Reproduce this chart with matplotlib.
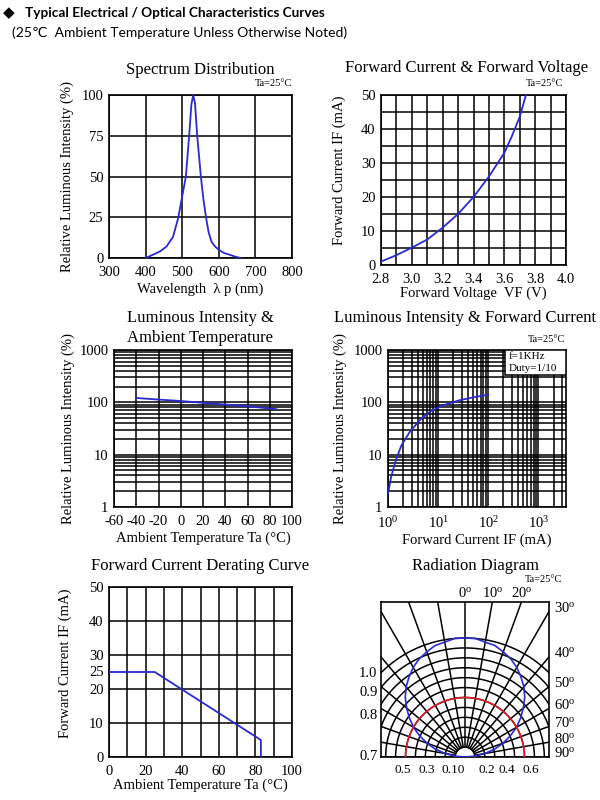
import numpy as np
import matplotlib
matplotlib.use("Agg")
import matplotlib.pyplot as plt
from matplotlib.patches import Rectangle
from matplotlib.ticker import LogLocator, NullFormatter, FixedLocator, FixedFormatter

plt.rcParams['font.family'] = ['Liberation Serif', 'DejaVu Serif']
plt.rcParams['mathtext.fontset'] = 'custom'
plt.rcParams['mathtext.rm'] = 'Liberation Serif'
plt.rcParams['mathtext.it'] = 'Liberation Serif:italic'
plt.rcParams['axes.unicode_minus'] = False

# spectrum distribution
spec_wl = [400, 420, 439, 457, 475, 489, 501, 510, 519, 525, 530, 535, 541, 551, 558, 565, 572, 580, 590, 600, 615, 630, 645, 660]
spec_rel = [0, 2, 4, 7, 13, 24.5, 39, 50, 75, 94, 100, 95, 75, 50, 36, 25, 16, 10, 7, 5, 3, 2, 0.8, 0]

# forward current vs forward voltage
vf = [2.8, 2.9, 3.0, 3.1, 3.2, 3.3, 3.4, 3.5, 3.6, 3.65, 3.7, 3.74]
if_ma = [1, 2.9, 5.1, 7.5, 11, 15, 20, 26, 33, 38, 43.6, 50]

# luminous intensity vs ambient temperature
ta = [-40, -20, 0, 20, 40, 60, 86]
li_ta = [121, 113, 106, 98, 91, 84, 74]

# luminous intensity vs forward current
if_log = [1, 1.17, 1.47, 1.85, 2.7, 4.3, 6.8, 12.6, 27, 58, 100]
li_if = [1.8, 4.0, 8.4, 15, 27, 45.6, 66, 88, 110, 128, 140]

# derating curve
der_ta = [0, 25, 83, 83]
der_if = [25, 25, 5, 0]

# radiation diagram (angle from axis, relative intensity)
rad_ang = [-90, -85, -80, -75, -70, -65, -60, -55, -50, -45, -40, -35, -30, -25, -20, -15, -10, -5, 0,
           5, 10, 15, 20, 25, 30, 35, 40, 45, 50, 55, 60, 65, 70, 75, 80, 85, 90]
rad_blue = [0.00, 0.09, 0.17, 0.26, 0.34, 0.42, 0.50, 0.57, 0.64, 0.71, 0.77, 0.82, 0.87, 0.91, 0.94, 0.97, 0.98, 1.00, 1.00,
            1.00, 0.98, 0.97, 0.94, 0.91, 0.87, 0.82, 0.77, 0.71, 0.64, 0.57, 0.50, 0.42, 0.34, 0.26, 0.17, 0.09, 0.00]
rad_red = [0.50, 0.50, 0.50, 0.50, 0.50, 0.50, 0.50, 0.50, 0.50, 0.50, 0.50, 0.50, 0.50, 0.50, 0.50, 0.50, 0.50, 0.50, 0.50,
           0.50, 0.50, 0.50, 0.50, 0.50, 0.50, 0.50, 0.50, 0.50, 0.50, 0.50, 0.50, 0.50, 0.50, 0.50, 0.50, 0.50, 0.50]

BLUE = '#2a2ad0'
RED = '#e0202a'
W, H = 600, 800
fig = plt.figure(figsize=(6, 8), dpi=100)


def box(x0, y0, x1, y1):
    return [x0 / W, 1 - y1 / H, (x1 - x0) / W, (y1 - y0) / H]


def ftext(x, y, s, **kw):
    fig.text(x / W, 1 - y / H, s, **kw)


def style(ax):
    for sp in ax.spines.values():
        sp.set_linewidth(1.2)
    ax.tick_params(which='both', length=0, labelsize=10.5)
    ax.tick_params(axis='x', pad=6)
    ax.tick_params(axis='y', pad=4)
    ax.grid(True, which='both', color='black', lw=1.1)
    ax.set_axisbelow(False)


# header
ftext(3, 13, '◆', family='DejaVu Sans', fontsize=11, va='center')
ftext(25, 13, 'Typical Electrical / Optical Characteristics Curves', family=['Lato', 'DejaVu Sans'],
      fontweight='bold', fontsize=9.8, va='center')
ftext(12, 33, '(25℃  Ambient Temperature Unless Otherwise Noted)', family=['Lato', 'DejaVu Sans'],
      fontsize=10, va='center')

# 1 spectrum
ax1 = fig.add_axes(box(109, 95, 292, 258))
ax1.plot(spec_wl, spec_rel, color=BLUE, lw=1.3, zorder=3)
ax1.set_xlim(300, 800)
ax1.set_ylim(0, 100)
ax1.set_xticks([300, 400, 500, 600, 700, 800])
ax1.set_yticks([0, 25, 50, 75, 100])
style(ax1)
ax1.set_xlabel('Wavelength  λ p (nm)', fontsize=10.5, labelpad=2)
ax1.set_ylabel('Relative Luminous Intensity (%)', fontsize=10.5)
ax1.yaxis.set_label_coords(-0.19, 0.5)
ftext(200, 70, 'Spectrum Distribution', fontsize=12, ha='center', va='center')
ftext(292, 84, 'Ta=25°C', fontsize=7.5, ha='right', va='center')

# 2 forward current vs voltage
ax2 = fig.add_axes(box(381, 95, 566, 265))
ax2.plot(vf, if_ma, color=BLUE, lw=1.3, zorder=3)
ax2.set_xlim(2.8, 4.0)
ax2.set_ylim(0, 50)
ax2.set_xticks([2.8, 3.0, 3.2, 3.4, 3.6, 3.8, 4.0])
ax2.set_xticks(np.arange(2.9, 4.0, 0.2), minor=True)
ax2.set_yticks([0, 10, 20, 30, 40, 50])
ax2.set_yticks([5, 15, 25, 35, 45], minor=True)
ax2.yaxis.set_minor_formatter(NullFormatter())
ax2.xaxis.set_minor_formatter(NullFormatter())
style(ax2)
ax2.set_xlabel('Forward Voltage  VF (V)', fontsize=10.5, labelpad=0)
ax2.set_ylabel('Forward Current IF (mA)', fontsize=10.5)
ax2.yaxis.set_label_coords(-0.19, 0.56)
ftext(467, 68, 'Forward Current & Forward Voltage', fontsize=12, ha='center', va='center')
ftext(563, 84, 'Ta=25°C', fontsize=7.5, ha='right', va='center')

# 3 luminous intensity vs temperature
ax3 = fig.add_axes(box(114, 350, 292, 507))
ax3.plot(ta, li_ta, color=BLUE, lw=1.3, zorder=3)
ax3.set_yscale('log')
ax3.set_xlim(-60, 100)
ax3.set_ylim(1, 1000)
ax3.set_xticks(np.arange(-60, 101, 20))
ax3.yaxis.set_major_locator(FixedLocator([1, 10, 100, 1000]))
ax3.yaxis.set_major_formatter(FixedFormatter(['1', '10', '100', '1000']))
ax3.yaxis.set_minor_locator(LogLocator(base=10, subs=np.arange(2, 10)))
ax3.yaxis.set_minor_formatter(NullFormatter())
style(ax3)
ax3.set_xlabel('Ambient Temperature Ta (°C)', fontsize=10.5, labelpad=2)
ax3.set_ylabel('Relative Luminous Intensity (%)', fontsize=10.5)
ax3.yaxis.set_label_coords(-0.22, 0.5)
ftext(200, 318, 'Luminous Intensity &', fontsize=12, ha='center', va='center')
ftext(200, 338, 'Ambient Temperature', fontsize=12, ha='center', va='center')

# 4 luminous intensity vs forward current
ax4 = fig.add_axes(box(388, 350, 566, 507))
ax4.plot(if_log, li_if, color=BLUE, lw=1.3, zorder=3)
ax4.set_xscale('log')
ax4.set_yscale('log')
ax4.set_xlim(1, 10 ** 3.55)
ax4.set_ylim(1, 1000)
ax4.xaxis.set_major_locator(FixedLocator([1, 10, 100, 1000]))
ax4.xaxis.set_major_formatter(FixedFormatter([r'$\mathregular{10^0}$', r'$\mathregular{10^1}$',
                                              r'$\mathregular{10^2}$', r'$\mathregular{10^3}$']))
ax4.xaxis.set_minor_locator(LogLocator(base=10, subs=np.arange(2, 10)))
ax4.xaxis.set_minor_formatter(NullFormatter())
ax4.yaxis.set_major_locator(FixedLocator([1, 10, 100, 1000]))
ax4.yaxis.set_major_formatter(FixedFormatter(['1', '10', '100', '1000']))
ax4.yaxis.set_minor_locator(LogLocator(base=10, subs=np.arange(2, 10)))
ax4.yaxis.set_minor_formatter(NullFormatter())
style(ax4)
ax4.add_patch(Rectangle((0.657, 0.84), 0.343, 0.16, transform=ax4.transAxes,
                        facecolor='white', edgecolor='black', lw=1.1, zorder=4))
ax4.text(0.68, 0.96, 'f=1KHz', transform=ax4.transAxes, fontsize=8, va='center', zorder=5)
ax4.text(0.68, 0.882, 'Duty=1/10', transform=ax4.transAxes, fontsize=8, va='center', zorder=5)
ax4.set_xlabel('Forward Current IF (mA)', fontsize=10.5, labelpad=2)
ax4.set_ylabel('Relative Luminous Intensity (%)', fontsize=10.5)
ax4.yaxis.set_label_coords(-0.23, 0.5)
ftext(465, 318, 'Luminous Intensity & Forward Current', fontsize=12, ha='center', va='center')
ftext(565, 339, 'Ta=25°C', fontsize=7.5, ha='right', va='center')

# 5 derating
ax5 = fig.add_axes(box(109, 587, 292, 757))
ax5.plot(der_ta, der_if, color=BLUE, lw=1.3, zorder=3)
ax5.set_xlim(0, 100)
ax5.set_ylim(0, 50)
ax5.set_xticks(np.arange(0, 101, 20))
ax5.set_xticks(np.arange(10, 100, 20), minor=True)
ax5.set_yticks([0, 10, 20, 30, 40, 50])
style(ax5)
ax5.text(-0.025, 25, '25', transform=ax5.get_yaxis_transform(), fontsize=10.5, ha='right', va='center')
ax5.set_xlabel('Ambient Temperature Ta (°C)', fontsize=10.5, labelpad=0)
ax5.set_ylabel('Forward Current IF (mA)', fontsize=10.5)
ax5.yaxis.set_label_coords(-0.2, 0.55)
ftext(200, 566, 'Forward Current Derating Curve', fontsize=12, ha='center', va='center')

# 6 radiation diagram
R = 119.0
ax6 = fig.add_axes(box(381, 602, 549, 757))
hw = 84 / R
top = 155 / R
ax6.set_xlim(-hw, hw)
ax6.set_ylim(0, top)
ax6.set_xticks([])
ax6.set_yticks([])
for sp in ax6.spines.values():
    sp.set_linewidth(1.2)
t = np.linspace(0, np.pi, 200)
for k in range(1, 13):
    ax6.plot(k / 12 * np.cos(t), k / 12 * np.sin(t), color='black', lw=1.1)
for a in range(-90, 91, 10):
    th = np.radians(a)
    ax6.plot([np.sin(th) / 12, 2 * np.sin(th)], [np.cos(th) / 12, 2 * np.cos(th)], color='black', lw=1.1)
ang = np.radians(rad_ang)
ax6.plot(np.array(rad_blue) * np.sin(ang), np.array(rad_blue) * np.cos(ang), color=BLUE, lw=1.2, zorder=3)
ax6.plot(np.array(rad_red) * np.sin(ang), np.array(rad_red) * np.cos(ang), color=RED, lw=1.2, zorder=3)
for a in [0, 10, 20]:
    ax6.text(top * np.tan(np.radians(a)), top + 0.02, f'{a}$^\\mathregular{{o}}$', fontsize=10.5,
             ha='center', va='bottom')
for a in [30, 40, 50, 60, 70, 80, 90]:
    yy = hw / np.tan(np.radians(a)) if a < 90 else 0
    ax6.text(hw + 0.04, min(yy + 0.03, top - 0.03), f'{a}$^\\mathregular{{o}}$', fontsize=10.5,
             ha='left', va='center')
for s, yy in zip(['1.0', '0.9', '0.8', '0.7'], [0.70, 0.54, 0.35, 0.0]):
    ax6.text(-hw - 0.03, yy, s, fontsize=10.5, ha='right', va='center')
for s, xx in zip(['0.5', '0.3', '0.10', '0.2', '0.4', '0.6'], [-0.52, -0.32, -0.10, 0.185, 0.35, 0.55]):
    ax6.text(xx, -0.06, s, fontsize=9.5, ha='center', va='top')
ftext(475, 566, 'Radiation Diagram', fontsize=12, ha='center', va='center')
ftext(562, 579, 'Ta=25°C', fontsize=7.5, ha='right', va='center')

fig.savefig('out.png', dpi=100)
